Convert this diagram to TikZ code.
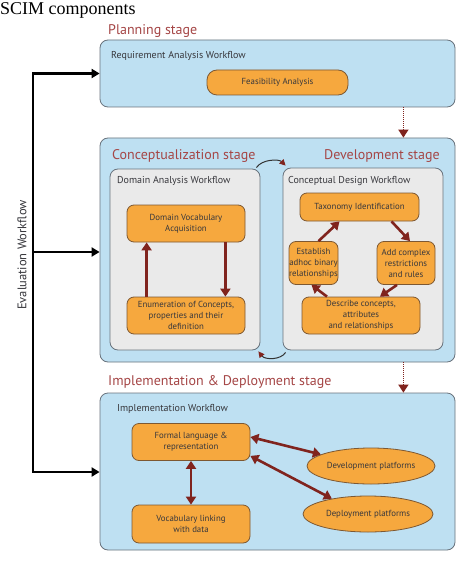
\documentclass[tikz,border=0pt]{standalone}
\usepackage{fontspec}
\setmainfont{PT Sans}
\newfontfamily\titlefont{Liberation Serif}
\usetikzlibrary{arrows.meta,shapes.geometric,calc}
\definecolor{lblue}{RGB}{190,224,242}
\definecolor{bordgray}{RGB}{105,115,125}
\definecolor{lgray}{RGB}{234,234,234}
\definecolor{orng}{RGB}{246,168,62}
\definecolor{obord}{RGB}{125,88,50}
\definecolor{stagered}{RGB}{165,70,70}
\definecolor{darr}{RGB}{128,36,30}
\definecolor{txt}{RGB}{55,55,60}
\tikzset{
  stagebox/.style={draw=bordgray,fill=lblue,rounded corners=8pt,line width=0.8pt,inner sep=0},
  graybox/.style={draw=bordgray,fill=lgray,rounded corners=8pt,line width=0.8pt,inner sep=0},
  obox/.style={draw=obord,fill=orng,rounded corners=7pt,line width=0.8pt,align=center,
    font=\fontsize{8.8}{11}\selectfont,text=txt,inner sep=0},
  oell/.style={ellipse,draw=obord,fill=orng,line width=0.8pt,font=\fontsize{8.8}{11}\selectfont,text=txt,inner sep=0},
  stagelbl/.style={text=stagered,font=\fontsize{14}{16}\selectfont,inner sep=0},
  wflbl/.style={text=txt,font=\fontsize{10}{12}\selectfont,inner sep=0,anchor=west},
  rarrow/.style={draw=darr,line width=2.6pt,-{Triangle[length=8pt,width=10pt]}},
  rdarrow/.style={draw=darr,line width=2.6pt,{Triangle[length=8pt,width=10pt]}-{Triangle[length=8pt,width=10pt]}},
  dotarrow/.style={draw=darr,line width=1.6pt,dash pattern=on 1pt off 1pt,-{Triangle[length=8pt,width=10pt,line cap=butt]}},
  arcarrow/.style={draw=black!80,line width=1pt,-{Triangle[length=6pt,width=6pt,fill=darr,color=darr]}},
  evarrow/.style={draw=black,line width=2.2pt,-{Triangle[length=8pt,width=9pt]}},
}
\begin{document}
\begin{tikzpicture}[x=1pt,y=-1pt]
\useasboundingbox (0,0) rectangle (474,564);
\fill[white] (0,0) rectangle (474,564);
% title
\node[anchor=base west,inner sep=0,font=\titlefont\fontsize{18}{20}\selectfont] (title) at (0,15) {SCIM components};
% planning
\node[stagelbl,anchor=west] (planlbl) at (108,31) {Planning stage};
\node[stagebox,minimum width=355pt,minimum height=67pt] (plan) at (277.5,73.5) {};
\node[wflbl] (reqlbl) at (111,56) {Requirement Analysis Workflow};
\node[obox,rounded corners=10pt,minimum width=141pt,minimum height=25pt] (feas) at (277.5,82.5) {Feasibility Analysis};
% big box
\node[stagebox,minimum width=355pt,minimum height=224pt] (big) at (277.5,250) {};
\node[stagelbl,anchor=west] (conclbl) at (112,156) {Conceptualization stage};
\node[stagelbl,anchor=east] (devlbl) at (440,156) {Development stage};
\node[graybox,minimum width=150pt,minimum height=181pt] (left) at (185,259.5) {};
\node[graybox,minimum width=160pt,minimum height=182pt] (right) at (363,259) {};
\node[wflbl] (domlbl) at (117,181) {Domain Analysis Workflow};
\node[wflbl] (cdlbl) at (288,181) {Conceptual Design Workflow};
\node[obox,minimum width=118pt,minimum height=37pt] (dva) at (186,223.5) {Domain Vocabulary\\Acquisition};
\node[obox,minimum width=118pt,minimum height=37pt] (enum) at (186,315.5) {Enumeration of Concepts,\\properties and their\\definition};
\node[obox,minimum width=119pt,minimum height=28pt] (tax) at (359.5,207) {Taxonomy Identification};
\node[obox,minimum width=49pt,minimum height=43pt] (est) at (313.5,263) {Establish\\adhoc binary\\relationships};
\node[obox,minimum width=58pt,minimum height=43pt] (add) at (406,263) {Add complex\\restrictions\\and rules};
\node[obox,minimum width=118pt,minimum height=37pt] (desc) at (361,315.5) {Describe concepts,\\attributes\\and relationships};
% arrows in conceptualization
\draw[rarrow] ([xshift=20pt]enum.north west) -- ([xshift=20pt]dva.south west);
\draw[rarrow] ([xshift=-20pt]dva.south east) -- ([xshift=-20pt]enum.south east |- enum.north);
\draw[rarrow] ([xshift=5pt]est.north) -- ([xshift=-20pt]tax.south);
\draw[rarrow] ([xshift=32pt]tax.south) -- ([xshift=4pt]add.north);
\draw[rarrow] ([xshift=-9pt]add.south) -- ([xshift=19pt]desc.north);
\draw[rarrow] ([xshift=-34pt]desc.north) -- ([xshift=-2pt]est.south);
% arcs between gray boxes
\draw[arcarrow] ([xshift=-4pt,yshift=1pt]left.north east) .. controls (262,159) and (279,159) .. ([xshift=3pt,yshift=2pt]right.north west);
\draw[arcarrow] ([xshift=3pt,yshift=-2pt]right.south west) .. controls (281,360) and (265,360) .. ([xshift=-2pt,yshift=-1pt]left.south east);
% dotted arrow planning -> big
\draw[dotarrow] ([xshift=-52pt]plan.south east) -- ([xshift=-52pt]big.north east);
% implementation
\node[stagelbl,anchor=west] (impllbl) at (108,382) {Implementation \& Deployment stage};
\node[stagebox,minimum width=355pt,minimum height=157pt] (impl) at (277.5,471.5) {};
\draw[dotarrow] ([xshift=-52pt]big.south east) -- ([xshift=-52pt]impl.north east);
\node[wflbl] (iwlbl) at (117,409) {Implementation Workflow};
\node[obox,minimum width=118pt,minimum height=37pt] (formal) at (191,442) {Formal language \&\\representation};
\node[obox,minimum width=118pt,minimum height=38pt] (vocab) at (191,524) {Vocabulary linking\\with data};
\node[oell,minimum width=128pt,minimum height=36pt] (devp) at (371,466) {Development platforms};
\node[oell,minimum width=130pt,minimum height=36pt] (depp) at (368,514) {Deployment platforms};
\draw[rdarrow] (formal.south) -- (vocab.north);
\draw[rdarrow] ([yshift=5pt]formal.east) -- (devp.167);
\draw[rdarrow] ([yshift=5pt]formal.south east) -- (depp.157);
% evaluation workflow
\coordinate (e1) at (33,73.5);
\coordinate (e2) at (33,252);
\coordinate (e3) at (33,472);
\draw[draw=black,line width=2.2pt,{Triangle[length=8pt,width=9pt]}-{Triangle[length=8pt,width=9pt]}] (e1 -| plan.west) -- (e1) -- (e3) -- (e3 -| impl.west);
\draw[evarrow] (e2) -- (e2 -| big.west);
\node[rotate=90,text=txt,font=\fontsize{12.5}{14}\selectfont,inner sep=0] (evlbl) at (22,255) {Evaluation Workflow};
\end{tikzpicture}
\end{document}
